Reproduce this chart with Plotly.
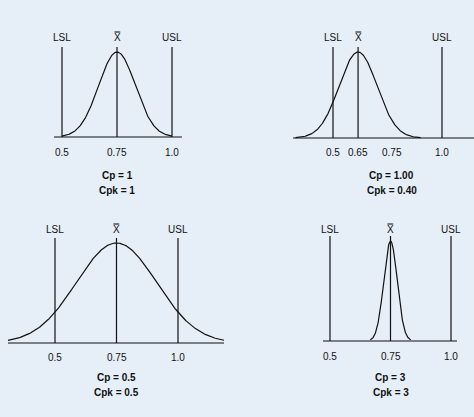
import numpy as np
import plotly.graph_objects as go

# Data
means = [0.75, 0.615, 0.75, 0.75]
sigmas = [0.0833, 0.087, 0.163, 0.0278]
curve_span = [3.0, 3.3, None, 3.0]          # in sigmas; None = whole axis
lsl, usl = 0.5, 1.0
tick_labels = [["0.5", "0.75", "1.0"], ["0.5", "0.65", "0.75", "1.0"],
               ["0.5", "0.75", "1.0"], ["0.5", "0.75", "1.0"]]
tick_vals = [[0.5, 0.75, 1.0], [0.5, 0.615, 0.77, 1.0],
             [0.5, 0.75, 1.0], [0.5, 0.75, 1.0]]
cp_text = [["Cp = 1", "Cpk = 1"], ["Cp = 1.00", "Cpk = 0.40"],
           ["Cp = 0.5", "Cpk = 0.5"], ["Cp = 3", "Cpk = 3"]]
cp_x = [0.75, 0.77, 0.75, 0.75]
axis_extent = [(0.4636, 1.045), (0.317, 1.16), (0.309, 1.187), (0.471, 1.025)]

# Layout (pixel geometry of each panel)
W, H = 474, 417
geo = [
    dict(p05=62, k=220, yb=137, yp=52, yt=47, ylab=37, ytick=152, ycp=175, ycpk=190),
    dict(p05=333, k=218, yb=138, yp=52, yt=47, ylab=37, ytick=152, ycp=175, ycpk=190),
    dict(p05=55, k=246, yb=343, yp=243, yt=238, ylab=229, ytick=357, ycp=377, ycpk=392),
    dict(p05=330, k=242, yb=341, yp=241, yt=236, ylab=229, ytick=356, ycp=377, ycpk=392),
]
ink = "#111111"
fig = go.Figure()
ann = []
for i, g in enumerate(geo):
    xa = "x" if i == 0 else f"x{i+1}"
    ya = "y" if i == 0 else f"y{i+1}"
    dy = g["yb"] - g["yp"]
    hy = lambda py: (g["yb"] - py) / dy
    m, s = means[i], sigmas[i]
    if curve_span[i] is None:
        xs = np.linspace(axis_extent[i][0], axis_extent[i][1], 300)
    else:
        xs = np.linspace(m - curve_span[i] * s, m + curve_span[i] * s, 300)
    ys = np.exp(-0.5 * ((xs - m) / s) ** 2)
    line = dict(color=ink, width=1.2)
    fig.add_trace(go.Scatter(x=xs, y=ys, mode="lines", line=line, xaxis=xa, yaxis=ya, hoverinfo="skip"))
    fig.add_trace(go.Scatter(x=list(axis_extent[i]), y=[0, 0], mode="lines", line=line, xaxis=xa, yaxis=ya))
    top = hy(g["yt"])
    for v in (lsl, m, usl):
        fig.add_trace(go.Scatter(x=[v, v], y=[0, top], mode="lines", line=line, xaxis=xa, yaxis=ya))
    font = dict(family="Liberation Sans, Arial", size=10, color=ink)
    for v, t in zip((lsl, m, usl), ("LSL", "X̿", "USL")):
        ann.append(dict(x=v, y=hy(g["ylab"]), xref=xa, yref=ya, text=t, showarrow=False, font=font))
    for v, t in zip(tick_vals[i], tick_labels[i]):
        ann.append(dict(x=v, y=hy(g["ytick"]), xref=xa, yref=ya, text=t, showarrow=False, font=font))
    for t, py in zip(cp_text[i], (g["ycp"], g["ycpk"])):
        ann.append(dict(x=cp_x[i], y=hy(py), xref=xa, yref=ya, text=f"<b>{t}</b>", showarrow=False, font=font))
    xr = [0.5 - g["p05"] / g["k"], 0.5 + (W - g["p05"]) / g["k"]]
    yr = [(g["yb"] - H) / dy, g["yb"] / dy]
    sfx = '' if i == 0 else str(i + 1)
    fig.layout[f"xaxis{sfx}"] = dict(range=xr, domain=[0, 1], visible=False, anchor=ya, fixedrange=True)
    fig.layout[f"yaxis{sfx}"] = dict(range=yr, domain=[0, 1], visible=False, anchor=xa, fixedrange=True)

fig.update_layout(width=W, height=H, margin=dict(l=0, r=0, t=0, b=0),
                  paper_bgcolor="#e6eef8", plot_bgcolor="rgba(0,0,0,0)",
                  showlegend=False, annotations=ann)
fig.write_html("out.html", config={"displayModeBar": False},
               post_script="document.body.style.margin='0';document.body.style.background='#e6eef8';")
